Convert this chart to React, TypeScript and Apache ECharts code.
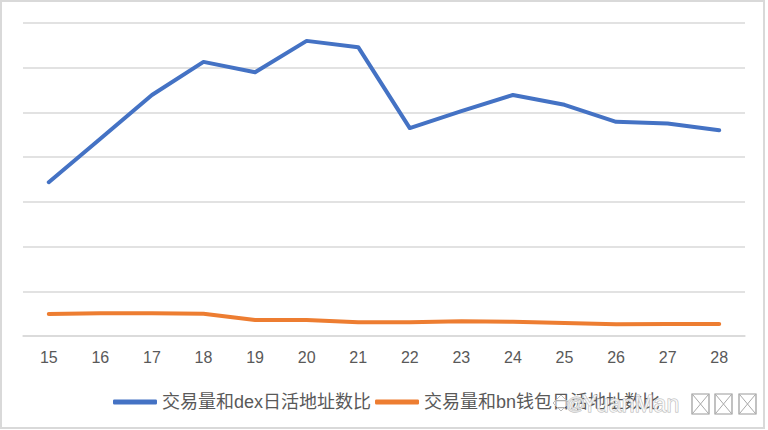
import React, { useEffect, useRef } from "react";
import * as echarts from "echarts";

const categories = ["15", "16", "17", "18", "19", "20", "21", "22", "23", "24", "25", "26", "27", "28"];
const dexRatio = [3.44, 4.41, 5.39, 6.13, 5.9, 6.6, 6.46, 4.65, 5.03, 5.39, 5.17, 4.79, 4.75, 4.6];
const bnRatio = [0.49, 0.51, 0.51, 0.5, 0.36, 0.36, 0.31, 0.31, 0.33, 0.32, 0.29, 0.26, 0.27, 0.27];
const seriesNames = ["交易量和dex日活地址数比", "交易量和bn钱包日活地址数比"];

const FONT = "'Liberation Sans', 'Noto Sans CJK SC', sans-serif";

function tofu(x: number, y: number) {
  const w = 17, h = 20;
  return {
    type: "group",
    x,
    y,
    z: 100,
    children: [
      { type: "rect", shape: { x: 0, y: 0, width: w, height: h }, style: { fill: "none", stroke: "#999", lineWidth: 1.2 } },
      { type: "line", shape: { x1: 1, y1: 1, x2: w - 1, y2: h - 1 }, style: { stroke: "#aaa", lineWidth: 1 } },
      { type: "line", shape: { x1: w - 1, y1: 1, x2: 1, y2: h - 1 }, style: { stroke: "#aaa", lineWidth: 1 } },
    ],
  };
}

export default function App() {
  const ref = useRef<HTMLDivElement>(null);
  useEffect(() => {
    document.body.style.margin = "0";
    const chart = echarts.init(ref.current!, null, { renderer: "svg" });
    chart.setOption({
      animation: false,
      backgroundColor: "#ffffff",
      grid: { left: 23, right: 23, top: 23, bottom: 94 },
      xAxis: {
        type: "category",
        data: categories,
        boundaryGap: true,
        axisLine: { show: true, lineStyle: { color: "#d9d9d9", width: 1.5 } },
        axisTick: { show: false },
        axisLabel: { color: "#595959", fontSize: 16, fontFamily: FONT, margin: 13 },
      },
      yAxis: {
        type: "value",
        min: 0,
        max: 7,
        interval: 1,
        axisLabel: { show: false },
        axisLine: { show: false },
        axisTick: { show: false },
        splitLine: { lineStyle: { color: "#d9d9d9", width: 1.5 } },
      },
      legend: {
        left: 108,
        top: 388,
        icon: "roundRect",
        itemWidth: 44,
        itemHeight: 5,
        itemGap: 4,
        textStyle: { color: "#595959", fontSize: 18, fontFamily: FONT },
        data: seriesNames,
      },
      series: [
        {
          name: seriesNames[0],
          type: "line",
          data: dexRatio,
          symbol: "none",
          color: "#4472C4",
          lineStyle: { width: 4, color: "#4472C4", cap: "round", join: "round" },
        },
        {
          name: seriesNames[1],
          type: "line",
          data: bnRatio,
          symbol: "none",
          color: "#ED7D31",
          lineStyle: { width: 4, color: "#ED7D31", cap: "round", join: "round" },
        },
      ],
      graphic: [
        {
          type: "rect",
          shape: { x: 1, y: 1, width: 763, height: 427 },
          style: { fill: "none", stroke: "#d9d9d9", lineWidth: 2 },
          silent: true,
        },
        {
          type: "polygon",
          z: 100,
          shape: { points: [[561, 395], [569, 403], [561, 411], [553, 403]] },
          style: { fill: "rgba(255,255,255,0.5)", stroke: "#bbb", lineWidth: 1 },
        },
        {
          type: "text",
          z: 100,
          x: 566,
          y: 394,
          style: {
            text: "@",
            fontSize: 19,
            fontFamily: FONT,
            fill: "rgba(255,255,255,0.6)",
            stroke: "#bbb",
            lineWidth: 1,
          },
        },
        {
          type: "text",
          z: 100,
          x: 582,
          y: 392,
          style: {
            text: "YuanMan",
            fontSize: 23,
            fontFamily: FONT,
            fill: "rgba(255,255,255,0.75)",
            stroke: "#b5b5b5",
            lineWidth: 1,
          },
        },
        tofu(692, 394),
        tofu(715, 394),
        tofu(739, 394),
      ],
    });
    return () => chart.dispose();
  }, []);
  return <div ref={ref} style={{ width: 768, height: 430 }} />;
}
